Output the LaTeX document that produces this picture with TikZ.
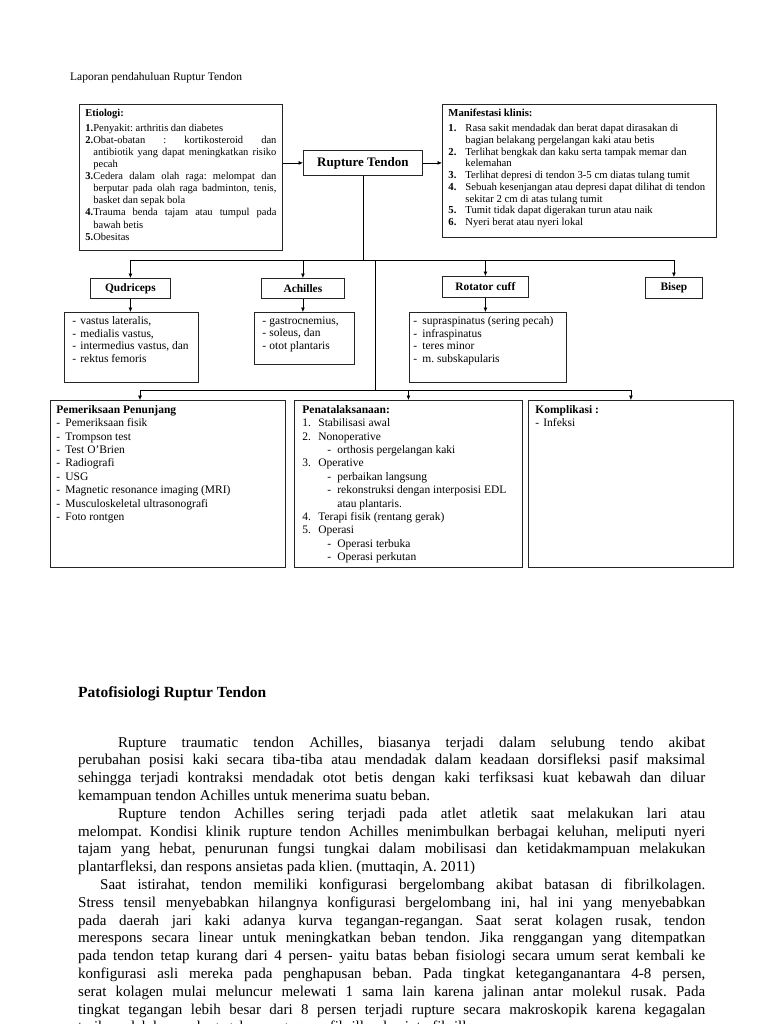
\documentclass[tikz,border=0pt]{standalone}
\usepackage{fontspec}
\setmainfont{Liberation Serif}
\usetikzlibrary{arrows.meta}
\frenchspacing
\newcommand\jline[2]{\makebox[#1][s]{#2}}
\newcommand\nb[2]{\makebox[#1][l]{#2}}
\begin{document}
\begin{tikzpicture}[x=1pt,y=-1pt,
  box/.style={draw=black!85, line width=0.8pt, inner sep=0pt, anchor=north west},
  lbl/.style={draw=black!85, line width=0.8pt, inner sep=0pt, anchor=north west, align=center, font=\fontsize{11.4}{12}\selectfont\bfseries},
  ln/.style={line width=0.7pt},
  arr/.style={line width=0.7pt, -{Latex[length=4.5pt,width=4pt]}},
  txt/.style={inner sep=0pt, anchor=base west},
]
\useasboundingbox[fill=white] (0,0) rectangle (768,1024);

% title
\node[txt, font=\fontsize{11.5}{13}\selectfont] (title) at (70,81) {Laporan pendahuluan Ruptur Tendon};

% top row
\node[box, inner xsep=6pt, inner ysep=5pt, font=\fontsize{10.5}{12.1}\selectfont] (etio) at (79,104)
{\parbox[c][136pt][t]{191pt}{%
\textbf{Etiologi:}\\[2.5pt]
\nb{8pt}{\textbf{1.}}Penyakit: arthritis dan diabetes\\
\nb{8pt}{\textbf{2.}}\jline{183pt}{Obat-obatan : kortikosteroid dan}\\
\hspace*{8pt}\jline{183pt}{antibiotik yang dapat meningkatkan risiko}\\
\hspace*{8pt}pecah\\
\nb{8pt}{\textbf{3.}}\jline{183pt}{Cedera dalam olah raga: melompat dan}\\
\hspace*{8pt}\jline{183pt}{berputar pada olah raga badminton, tenis,}\\
\hspace*{8pt}basket dan sepak bola\\
\nb{8pt}{\textbf{4.}}\jline{183pt}{Trauma benda tajam atau tumpul pada}\\
\hspace*{8pt}bawah betis\\
\nb{8pt}{\textbf{5.}}Obesitas}};

\node[lbl, minimum width=119pt, minimum height=25pt, font=\fontsize{13}{14}\selectfont\bfseries] (rt) at (303,150) {Rupture Tendon};

\node[box, inner xsep=6pt, inner ysep=5pt, font=\fontsize{10.7}{11.75}\selectfont] (mani) at (442,104)
{\parbox[c][123pt][t]{262pt}{%
\textbf{Manifestasi klinis:}\\[3pt]
\nb{17pt}{\textbf{1.}}Rasa sakit mendadak dan berat dapat dirasakan di\\
\hspace*{17pt}bagian belakang pergelangan kaki atau betis\\
\nb{17pt}{\textbf{2.}}Terlihat bengkak dan kaku serta tampak memar dan\\
\hspace*{17pt}kelemahan\\
\nb{17pt}{\textbf{3.}}Terlihat depresi di tendon 3-5 cm diatas tulang tumit\\
\nb{17pt}{\textbf{4.}}Sebuah kesenjangan atau depresi dapat dilihat di tendon\\
\hspace*{17pt}sekitar 2 cm di atas tulang tumit\\
\nb{17pt}{\textbf{5.}}Tumit tidak dapat digerakan turun atau naik\\
\nb{17pt}{\textbf{6.}}Nyeri berat atau nyeri lokal}};

% second row
\node[lbl, minimum width=80pt, minimum height=20pt] (qd) at (90,278) {Qudriceps};
\node[lbl, minimum width=83pt, minimum height=20pt] (ach) at (261,278) {Achilles};
\node[lbl, minimum width=86pt, minimum height=21pt] (rot) at (442,276) {Rotator cuff};
\node[lbl, minimum width=57pt, minimum height=21pt] (bis) at (645,277) {Bisep};

\node[box, inner xsep=8pt, inner ysep=4pt, font=\fontsize{11.5}{12.8}\selectfont] (ql) at (64,312)
{\parbox[c][62pt][t]{118pt}{%
\nb{8pt}{-}vastus lateralis,\\
\nb{8pt}{-}medialis vastus,\\
\nb{8pt}{-}intermedius vastus, dan\\
\nb{8pt}{-}rektus femoris}};

\node[box, inner xsep=8pt, inner ysep=4pt, font=\fontsize{11.5}{12.8}\selectfont] (al) at (254,312)
{\parbox[c][44pt][t]{84pt}{%
\nb{7pt}{-}gastrocnemius,\\
\nb{7pt}{-}soleus, dan\\
\nb{7pt}{-}otot plantaris}};

\node[box, inner xsep=4pt, inner ysep=4pt, font=\fontsize{11.5}{12.8}\selectfont] (rl) at (409,312)
{\parbox[c][62pt][t]{149pt}{%
\nb{9pt}{-}supraspinatus (sering pecah)\\
\nb{9pt}{-}infraspinatus\\
\nb{9pt}{-}teres minor\\
\nb{9pt}{-}m. subskapularis}};

% third row
\node[box, inner xsep=6pt, inner ysep=5pt, font=\fontsize{11.5}{13.4}\selectfont] (pem) at (50,400)
{\parbox[c][157pt][t]{223pt}{%
\textbf{Pemeriksaan Penunjang}\\
\nb{9pt}{-}Pemeriksaan fisik\\
\nb{9pt}{-}Trompson test\\
\nb{9pt}{-}Test O’Brien\\
\nb{9pt}{-}Radiografi\\
\nb{9pt}{-}USG\\
\nb{9pt}{-}Magnetic resonance imaging (MRI)\\
\nb{9pt}{-}Musculoskeletal ultrasonografi\\
\nb{9pt}{-}Foto rontgen}};

\node[box, inner xsep=8pt, inner ysep=5pt, font=\fontsize{11.5}{13.4}\selectfont] (pena) at (294,400)
{\parbox[c][157pt][t]{212pt}{%
\textbf{Penatalaksanaan:}\\
\nb{16pt}{1.}Stabilisasi awal\\
\nb{16pt}{2.}Nonoperative\\
\hspace*{25pt}\nb{10pt}{-}orthosis pergelangan kaki\\
\nb{16pt}{3.}Operative\\
\hspace*{25pt}\nb{10pt}{-}perbaikan langsung\\
\hspace*{25pt}\nb{10pt}{-}rekonstruksi dengan interposisi EDL\\
\hspace*{35pt}atau plantaris.\\
\nb{16pt}{4.}Terapi fisik (rentang gerak)\\
\nb{16pt}{5.}Operasi\\
\hspace*{25pt}\nb{10pt}{-}Operasi terbuka\\
\hspace*{25pt}\nb{10pt}{-}Operasi perkutan}};

\node[box, inner xsep=7pt, inner ysep=5pt, font=\fontsize{11.5}{13.4}\selectfont] (komp) at (528,400)
{\parbox[c][157pt][t]{191pt}{%
\textbf{Komplikasi :}\\
\nb{8pt}{-}Infeksi}};

% connectors
\draw[arr] (etio.east |- rt.west) -- (rt.west);
\draw[arr] (rt.east) -- (mani.west |- rt.east);

\coordinate (bus1) at (0,260);
\coordinate (j2) at (375,260);
\coordinate (j3) at (375,390);
\coordinate (b2l) at (140,390);
\draw[ln] (rt.south) -- (rt.south |- bus1);
\draw[ln] (qd.north |- bus1) -- (bis.north |- bus1);
\draw[arr] (qd.north |- bus1) -- (qd.north);
\draw[arr] (ach.north |- bus1) -- (ach.north);
\draw[arr] (rot.north |- bus1) -- (rot.north);
\draw[arr] (bis.north |- bus1) -- (bis.north);

\draw[arr] (qd.south) -- (qd.south |- ql.north);
\draw[arr] (ach.south) -- (ach.south |- al.north);
\draw[arr] (rot.south) -- (rot.south |- rl.north);

\draw[ln] (j2) -- (j3);
\draw[ln] (b2l) -- (komp.north |- j3);
\draw[arr] (b2l) -- (b2l |- pem.north);
\draw[arr] (pena.north |- j3) -- (pena.north);
\draw[arr] (komp.north |- j3) -- (komp.north);

% text section
\node[txt, font=\fontsize{15.5}{17}\selectfont\bfseries] (head) at (78,697) {Patofisiologi Ruptur Tendon};

\begin{scope}
\clip (0,0) rectangle (768,1024);
\node[anchor=north west, inner sep=0pt, font=\fontsize{15}{17.8}\selectfont] (para) at (78,736.5)
{\parbox[t]{627pt}{%
\hspace*{40pt}\jline{587pt}{Rupture traumatic tendon Achilles, biasanya terjadi dalam selubung tendo akibat}\\
\jline{627pt}{perubahan posisi kaki secara tiba-tiba atau mendadak dalam keadaan dorsifleksi pasif maksimal}\\
\jline{627pt}{sehingga terjadi kontraksi mendadak otot betis dengan kaki terfiksasi kuat kebawah dan diluar}\\
kemampuan tendon Achilles untuk menerima suatu beban.\\
\hspace*{40pt}\jline{587pt}{Rupture tendon Achilles sering terjadi pada atlet atletik saat melakukan lari atau}\\
\jline{627pt}{melompat. Kondisi klinik rupture tendon Achilles menimbulkan berbagai keluhan, meliputi nyeri}\\
\jline{627pt}{tajam yang hebat, penurunan fungsi tungkai dalam mobilisasi dan ketidakmampuan melakukan}\\
plantarfleksi, dan respons ansietas pada klien. (muttaqin, A. 2011)\\
\hspace*{22pt}\jline{605pt}{Saat istirahat, tendon memiliki konfigurasi bergelombang akibat batasan di fibrilkolagen.}\\
\jline{627pt}{Stress tensil menyebabkan hilangnya konfigurasi bergelombang ini, hal ini yang menyebabkan}\\
\jline{627pt}{pada daerah jari kaki adanya kurva tegangan-regangan. Saat serat kolagen rusak, tendon}\\
\jline{627pt}{merespons secara linear untuk meningkatkan beban tendon. Jika renggangan yang ditempatkan}\\
\jline{627pt}{pada tendon tetap kurang dari 4 persen- yaitu batas beban fisiologi secara umum serat kembali ke}\\
\jline{627pt}{konfigurasi asli mereka pada penghapusan beban. Pada tingkat keteganganantara 4-8 persen,}\\
\jline{627pt}{serat kolagen mulai meluncur melewati 1 sama lain karena jalinan antar molekul rusak. Pada}\\
\jline{627pt}{tingkat tegangan lebih besar dari 8 persen terjadi rupture secara makroskopik karena kegagalan}\\
tarikan oleh karena kegagalan pergeseran fibriller dan interfibriller.}};
\end{scope}
\end{tikzpicture}
\end{document}
